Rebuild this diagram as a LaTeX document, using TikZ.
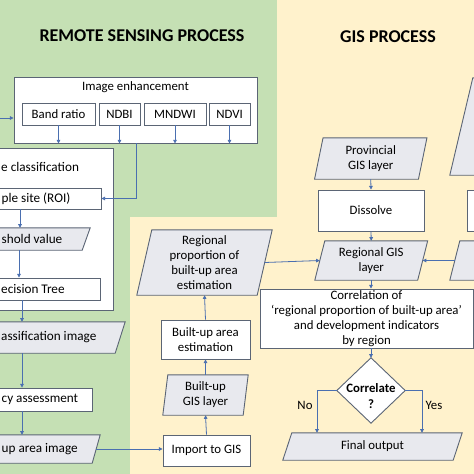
\documentclass[tikz,border=0pt]{standalone}
\usepackage{fontspec}
\setmainfont{Carlito}
\usetikzlibrary{arrows.meta,calc}
\definecolor{rsgreen}{HTML}{C5E0B4}
\definecolor{gisyellow}{HTML}{FFF2CC}
\definecolor{edgegray}{HTML}{5B6575}
\definecolor{arrowblue}{HTML}{4A6FB0}
\definecolor{parfill}{HTML}{E8E9EE}
\pgfdeclarelayer{back}
\pgfdeclarelayer{mid}
\pgfsetlayers{back,mid,main}
\tikzset{
  box/.style={draw=edgegray, line width=0.9pt, fill=white, inner sep=0pt, align=center, font=\fontsize{12.8}{15}\selectfont},
  txt/.style={inner sep=0pt, align=center, font=\fontsize{12.8}{15}\selectfont},
  cut/.style={inner sep=0pt, anchor=west, font=\fontsize{13.2}{15}\selectfont},
  ttl/.style={inner sep=0pt, font=\fontsize{18}{20}\selectfont\bfseries},
  arr/.style={draw=arrowblue, line width=0.8pt, -{Triangle[length=3.6pt,width=3.6pt]}},
  plg/.style={fill=parfill, draw=edgegray, line width=0.9pt},
}
\newcommand\plgram[2]{%
  \begin{pgfonlayer}{mid}
  \path[plg] ($(#1.north west)+(#2,0)$) -- ($(#1.north east)+(#2,0)$) -- ($(#1.south east)+(-#2,0)$) -- ($(#1.south west)+(-#2,0)$) -- cycle;
  \end{pgfonlayer}}
\begin{document}
\begin{tikzpicture}[x=1pt,y=-1pt]
\useasboundingbox (0,0) rectangle (474,474);
\begin{pgfonlayer}{back}
\fill[rsgreen] (0,0) -- (277,0) -- (277,217) -- (130,217) -- (130,474) -- (0,474) -- cycle;
\fill[gisyellow] (277,0) -- (474,0) -- (474,474) -- (130,474) -- (130,217) -- (277,217) -- cycle;
% image classification frame (behind its parallelogram)
\node[box, minimum width=173pt, minimum height=162pt] (cls) at (26.5,229) {};
\end{pgfonlayer}

% titles
\node[ttl] (rstitle) at (142,36) {REMOTE SENSING PROCESS};
\node[ttl] (gistitle) at (388,37) {GIS PROCESS};

% image enhancement
\node[box, minimum width=243pt, minimum height=66pt] (enh) at (135.5,110) {};
\node[txt] (enhlbl) at (135.5,87) {Image enhancement};
\node[box, minimum width=73pt, minimum height=22pt] (br) at (58.5,114) {Band ratio};
\node[box, minimum width=41pt, minimum height=22pt] (ndbi) at (119.5,114) {NDBI};
\node[box, minimum width=62pt, minimum height=22pt] (mndwi) at (175,114) {MNDWI};
\node[box, minimum width=41pt, minimum height=22pt] (ndvi) at (229.5,114) {NDVI};
\foreach \n in {br,ndbi,mndwi,ndvi}{\draw[arr] (\n.south) -- (\n.south |- enh.south);}
\coordinate (inL) at (-6,118);
\draw[arr] (inL) -- (enh.west |- inL);

% image classification
\node[cut] (clslbl) at (1,167) {e classification};
\node[box, minimum width=151pt, minimum height=21pt] (roi) at (25.5,198.5) {};
\node[cut] (roilbl) at (1.5,198.5) {ple site (ROI)};
\node[txt, minimum width=146pt, minimum height=22pt] (thr) at (13,239) {};
\plgram{thr}{4}
\node[cut] (thrlbl) at (1.5,239) {shold value};
\node[box, minimum width=150pt, minimum height=22pt] (dt) at (25,289) {};
\node[cut] (dtlbl) at (1,289) {ecision Tree};
\draw[arr] (enh.south -| 136,0) |- (roi.east);

\node[txt, minimum width=190pt, minimum height=31pt] (cimg) at (25,337.5) {};
\plgram{cimg}{5}
\node[cut] (cimglbl) at (1,337) {assification image};
\node[box, minimum width=152pt, minimum height=23pt] (acc) at (16,399.5) {};
\node[cut] (acclbl) at (1.5,399.5) {cy assessment};
\node[txt, minimum width=156pt, minimum height=28pt] (bimg) at (18,449) {};
\plgram{bimg}{4}
\node[cut] (bimglbl) at (1.5,449) {up area image};

\draw[arr] (roi.south -| 20,0) -- (thr.north -| 20,0);
\draw[arr] (thr.south -| 19,0) -- (dt.north -| 19,0);
\draw[arr] (dt.south -| 22,0) -- (cimg.north -| 22,0);
\draw[arr] (cimg.south -| 22,0) -- (acc.north -| 22,0);
\draw[arr] (acc.south -| 22,0) -- (bimg.north -| 22,0);

% GIS column left
\node[box, minimum width=87pt, minimum height=31pt] (imp) at (206.5,450.5) {Import to GIS};
\node[txt, minimum width=80pt, minimum height=40pt] (bgis) at (205.5,395) {Built-up\\GIS layer};
\plgram{bgis}{2.5}
\node[box, minimum width=89pt, minimum height=39pt] (bae) at (205.5,339.5) {Built-up area\\estimation};
\node[txt, minimum width=120pt, minimum height=65pt] (rprop) at (204.5,262.5) {Regional\\proportion of\\built-up area\\estimation};
\plgram{rprop}{7.5}
\draw[arr] (bimg.east) -- (bimg.east -| imp.west);
\draw[arr] (imp.north) -- (bgis.south);
\draw[arr] (bgis.north) -- (bae.south);
\draw[arr] (bae.north) -- (rprop.south);

% GIS column middle
\node[txt, minimum width=103.5pt, minimum height=41pt] (prov) at (370.75,158.5) {Provincial\\GIS layer};
\plgram{prov}{4.25}
\node[box, minimum width=106pt, minimum height=41pt] (dis) at (371,210.5) {Dissolve};
\node[txt, minimum width=102.5pt, minimum height=39pt] (rgis) at (371.25,260.5) {Regional GIS\\layer};
\plgram{rgis}{5}
\node[box, minimum width=213pt, minimum height=59pt] (corr) at (366.5,318.5) {Correlation of\\‘regional proportion of built-up area’\\and development indicators\\by region};
\node[minimum width=68pt, minimum height=65pt, inner sep=0pt] (dia) at (371,390.5) {};
\begin{pgfonlayer}{mid}
\path[fill=white, draw=edgegray, line width=0.9pt] (dia.north) -- (dia.east) -- (dia.south) -- (dia.west) -- cycle;
\end{pgfonlayer}
\node[txt, font=\fontsize{12.8}{16}\selectfont\bfseries] (dialbl) at (371,396) {Correlate\\?};
\node[txt, minimum width=170pt, minimum height=27pt] (final) at (372.5,446.5) {Final output};
\plgram{final}{4.5}

\draw[arr] (rprop.east) -- (rgis.west);
\draw[arr] (prov.south) -- (dis.north);
\draw[arr] (dis.south) -- (rgis.north);
\draw[arr] (rgis.south -| 371,0) -- (corr.north -| 371,0);
\draw[arr] (corr.south -| dia.north) -- (dia.north);
\draw[arr] (dia.west) -| (final.north -| 317,0);
\draw[arr] (dia.east) -| (final.north -| 422,0);
\node[txt] (nolbl) at (305,405) {No};
\node[txt] (yeslbl) at (434,405) {Yes};

% right edge (cut off)
\node[txt, minimum width=60pt, minimum height=97pt] (rtall) at (491.5,126.5) {};
\plgram{rtall}{11.5}
\node[box, minimum width=63pt, minimum height=41pt] (rbox) at (498.5,210.5) {};
\node[txt, minimum width=60pt, minimum height=39pt] (rpar) at (485,260.5) {};
\plgram{rpar}{5}
\draw[arr] (rpar.west) -- (rgis.east);
\end{tikzpicture}
\end{document}
